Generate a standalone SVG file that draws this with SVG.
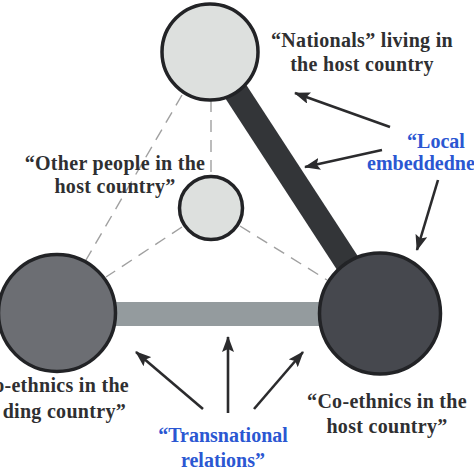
<svg xmlns="http://www.w3.org/2000/svg" width="474" height="474" viewBox="0 0 474 474">
  <defs>
    <marker id="ah" markerUnits="userSpaceOnUse" markerWidth="16" markerHeight="12" refX="15" refY="6" orient="auto">
      <path d="M0,0 L16,6 L0,12 L3,6 Z" fill="#2b2b2d"/>
    </marker>
  </defs>
  <style>
    .dash { stroke: #a0a0a0; stroke-width: 1.4; stroke-dasharray: 12 8; fill: none; }
    .arrow { stroke: #2b2b2d; stroke-width: 2.6; fill: none; marker-end: url(#ah); }
    .node { stroke: #222326; stroke-width: 3.5; }
    .lbl { font-family: "Liberation Serif", "Times New Roman", serif; font-weight: bold; font-size: 20px; letter-spacing: 0.3px; fill: #2f2f31; }
    .blue { font-family: "Liberation Serif", "Times New Roman", serif; font-weight: bold; font-size: 20px; fill: #2b57d2; }
  </style>
  <rect width="474" height="474" fill="#ffffff"/>

  <g id="connectors">
    <line class="dash" x1="182" y1="95" x2="86" y2="260"/>
    <line class="dash" x1="211" y1="100" x2="211" y2="175"/>
    <line class="dash" x1="182" y1="227" x2="106" y2="277"/>
    <line class="dash" x1="240" y1="226" x2="327" y2="280"/>
    <rect x="110" y="302" width="215" height="24" fill="#949b9e"/>
    <line x1="210" y1="52" x2="380" y2="313" stroke="#333538" stroke-width="25"/>
    <line class="arrow" x1="390" y1="127" x2="295" y2="93"/>
    <line class="arrow" x1="382" y1="150" x2="305" y2="167"/>
    <line class="arrow" x1="438" y1="180" x2="417" y2="250"/>
    <line class="arrow" x1="203" y1="409" x2="136" y2="352"/>
    <line class="arrow" x1="228" y1="413" x2="228" y2="337"/>
    <line class="arrow" x1="254" y1="409" x2="303" y2="352"/>
  </g>

  <g id="nationals">
    <circle class="node" cx="210" cy="52" r="48" fill="#dde0de"/>
    <text class="lbl" x="362" y="47" text-anchor="middle">“Nationals” living in</text>
    <text class="lbl" x="362" y="71" text-anchor="middle">the host country</text>
  </g>

  <g id="other-people">
    <circle class="node" cx="211" cy="208" r="31.5" fill="#dde0de"/>
    <text class="lbl" x="115" y="170" text-anchor="middle">“Other people in the</text>
    <text class="lbl" x="115" y="193" text-anchor="middle">host country”</text>
  </g>

  <g id="coethnics-sending">
    <circle class="node" cx="57" cy="313" r="58.5" fill="#6c6e73"/>
    <text class="lbl" x="129" y="392" text-anchor="end">o-ethnics in the</text>
    <text class="lbl" x="126" y="418" text-anchor="end">ding country”</text>
  </g>

  <g id="coethnics-host">
    <circle class="node" cx="380" cy="313.5" r="60.5" fill="#46484e"/>
    <text class="lbl" x="387" y="408" text-anchor="middle">“Co-ethnics in the</text>
    <text class="lbl" x="387" y="433" text-anchor="middle">host country”</text>
  </g>

  <g id="local-embeddedness">
    <text class="blue" x="436" y="148" text-anchor="middle">“Local</text>
    <text class="blue" x="367" y="170">embeddedne</text>
  </g>

  <g id="transnational-relations">
    <text class="blue" x="223" y="442" text-anchor="middle">“Transnational</text>
    <text class="blue" x="223" y="467" text-anchor="middle">relations”</text>
  </g>
</svg>
